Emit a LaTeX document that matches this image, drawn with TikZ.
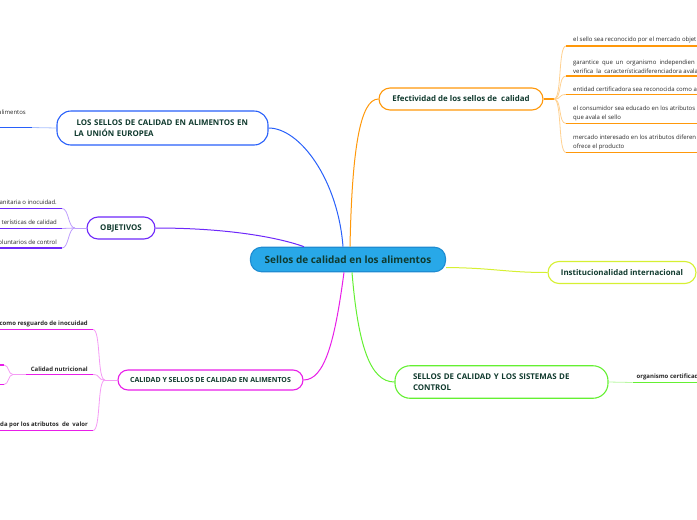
\documentclass[tikz,border=0pt]{standalone}
\usepackage{fontspec}
\setmainfont{Open Sans}
\usetikzlibrary{positioning}

\definecolor{ink}{RGB}{16,58,46}
\definecolor{leafink}{RGB}{40,40,40}
\definecolor{cfill}{RGB}{40,168,232}
\definecolor{cline}{RGB}{30,140,210}
\definecolor{cblue}{RGB}{40,96,250}
\definecolor{cviolet}{RGB}{110,40,250}
\definecolor{cmag}{RGB}{232,30,232}
\definecolor{corange}{RGB}{255,152,10}
\definecolor{cyell}{RGB}{214,240,50}
\definecolor{cgreen}{RGB}{100,240,50}

\tikzset{
  box/.style={draw, fill=white, line width=1.1pt, rounded corners=11pt,
    font=\bfseries\fontsize{7.9}{11.5}\selectfont, text=ink, inner sep=0pt},
  leaf/.style={inner xsep=5pt, inner ysep=2.5pt,
    font=\fontsize{6}{8.5}\selectfont, text=leafink, align=left},
  bleaf/.style={leaf, font=\bfseries\fontsize{6}{8}\selectfont},
}

\begin{document}
\begin{tikzpicture}[x=1pt,y=-1pt]
	\useasboundingbox (0,0) rectangle (697,520);
	% centre
	\node [box, fill=cfill, draw=cline, minimum width=195, minimum height=24.5,
	  font=\bfseries\fontsize{10}{12}\selectfont] (c) at (348,259.5) {Sellos de calidad en los alimentos};
	% main topics
	\node [box, draw=cblue, rounded corners=14pt, text width=177, inner xsep=17, minimum height=34] (eu) at (162.5,128)
	  {\ LOS SELLOS DE CALIDAD EN ALIMENTOS EN\\LA UNIÓN EUROPEA};
	\node [box, draw=cviolet, minimum width=68, minimum height=22] (obj) at (121,228) {OBJETIVOS};
	\node [box, draw=cmag, rounded corners=10pt, minimum width=185, minimum height=20,
	  font=\bfseries\fontsize{7}{9}\selectfont] (cal) at (210.5,380) {CALIDAD Y SELLOS DE CALIDAD EN ALIMENTOS};
	\node [box, draw=corange, minimum width=164, minimum height=22] (ef) at (461,99) {Efectividad de los sellos de\ \ calidad};
	\node [box, draw=cyell, minimum width=148, minimum height=22] (inst) at (622,272.5) {Institucionalidad internacional};
	\node [box, draw=cgreen, rounded corners=15pt, text width=177, inner xsep=18, minimum height=32.5] (sis) at (501.5,382)
	  {SELLOS DE CALIDAD Y LOS SISTEMAS DE\\CONTROL};

	% main connectors
	\draw [cblue, line width=1pt] ([xshift=-5pt]c.north) .. controls (338,180) and (300,128) .. (eu.east);
	\draw [corange, line width=1pt] ([xshift=2pt]c.north) .. controls (352,150) and (360,99) .. (ef.west);
	\draw [cviolet, line width=1pt] ([xshift=-44pt]c.north) .. controls (280,238) and (230,228) .. (obj.east);
	\draw [cmag, line width=1pt] ([xshift=-4pt]c.south) .. controls (335,340) and (325,380) .. (cal.east);
	\draw [cgreen, line width=1pt] ([xshift=4pt]c.south) .. controls (358,345) and (370,382) .. (sis.west);
	\draw [cyell, line width=1pt] ([yshift=-8pt]c.east) .. controls (495,268) and (505,272.5) .. (inst.west);

	% EU leaf
	\node [leaf, anchor=south east, inner xsep=4pt] (eu1) at (30,117) {alimentos};
	\coordinate (eu1e) at (32,127.5);
	\draw [cblue!40, line width=0.8pt] (eu.west) -- (eu1e);
	\draw [cblue, line width=1.5pt] (eu1e) -- ++(-32,0);

	% objetivos leaves
	\node [leaf, anchor=south east, inner ysep=3.5pt] (o1) at (62,208.5) {anitaria o inocuidad.};
	\node [leaf, anchor=south east, inner ysep=3.5pt] (o2) at (62,228.5) {terísticas de calidad};
	\node [leaf, anchor=south east, inner ysep=3.5pt] (o3) at (62,248) {oluntarios de control};
	\coordinate (ob) at (75,228);
	\draw [cviolet!45, line width=0.8pt] (obj.west) -- (ob);
	\foreach \i in {1,2,3} {
		\draw [cviolet!45, line width=0.8pt] (ob) .. controls +(-7,0) and +(7,0) .. (o\i.south east);
		\draw [cviolet, line width=1.5pt] (o\i.south east) -- ++(-62,0);
	}

	% calidad leaves
	\node [bleaf, anchor=south east] (k1) at (93,329.5) {como resguardo de inocuidad};
	\node [bleaf, anchor=south east] (k2) at (93,374.5) {Calidad nutricional};
	\node [bleaf, anchor=south east] (k3) at (93,430.5) {ida por los atributos\ \ de\ \ valor};
	\coordinate (kb) at (105,380);
	\draw [cmag!45, line width=0.8pt] (cal.west) -- (kb);
	\foreach \i in {1,2,3} {
		\draw [cmag!45, line width=0.8pt] (kb) .. controls +(-8,0) and +(8,0) .. (k\i.south east);
	}
	\draw [cmag, line width=1.5pt] (k1.south east) -- ++(-93,0);
	\draw [cmag, line width=1.5pt] (k3.south east) -- ++(-93,0);
	\draw [cmag, line width=1.5pt] (k2.south east) -- ++(-67,0) coordinate (k2e);
	\coordinate (nb) at (13,374.5);
	\coordinate (n1) at (4,365);
	\coordinate (n2) at (4,384.5);
	\draw [cmag!45, line width=0.8pt] (k2e) -- (nb);
	\draw [cmag!45, line width=0.8pt] (nb) .. controls +(-5,0) and +(5,0) .. (n1);
	\draw [cmag!45, line width=0.8pt] (nb) .. controls +(-5,0) and +(5,0) .. (n2);
	\draw [cmag, line width=1.5pt] (n1) -- ++(-4,0);
	\draw [cmag, line width=1.5pt] (n2) -- ++(-4,0);

	% efectividad leaves
	\node [leaf, anchor=south west, inner xsep=7pt] (e1) at (566,46) {el sello sea reconocido por el mercado objet};
	\node [leaf, anchor=south west, inner xsep=7pt] (e2) at (566,76) {garantice\ \ que\ \ un\ \ organismo\ \ independien\\verifica\ \ la\ \ característicadiferenciadora avala};
	\node [leaf, anchor=south west, inner xsep=7pt] (e3) at (566,94.5) {entidad certificadora sea reconocida como a};
	\node [leaf, anchor=south west, inner xsep=7pt] (e4) at (566,123.5) {el consumidor sea educado en los atributos\\que avala el sello};
	\node [leaf, anchor=south west, inner xsep=7pt] (e5) at (566,152.5) {mercado interesado en los atributos diferen\\ofrece el producto};
	\coordinate (eb) at (554,99);
	\draw [corange, line width=1.5pt] (ef.east) -- (eb);
	\foreach \i in {1,...,5} {
		\draw [corange!45, line width=0.8pt] (eb) .. controls +(8,0) and +(-8,0) .. (e\i.south west);
		\draw [corange, line width=1.5pt] (e\i.south west) -- ++(135,0);
	}

	% sistemas leaf
	\node [bleaf, anchor=south west, inner xsep=4pt] (s1) at (632.5,382.5) {organismo certificad};
	\draw [cgreen!45, line width=0.8pt] (sis.east) -- (s1.south west);
	\draw [cgreen, line width=1.5pt] (s1.south west) -- ++(70,0);
\end{tikzpicture}
\end{document}
